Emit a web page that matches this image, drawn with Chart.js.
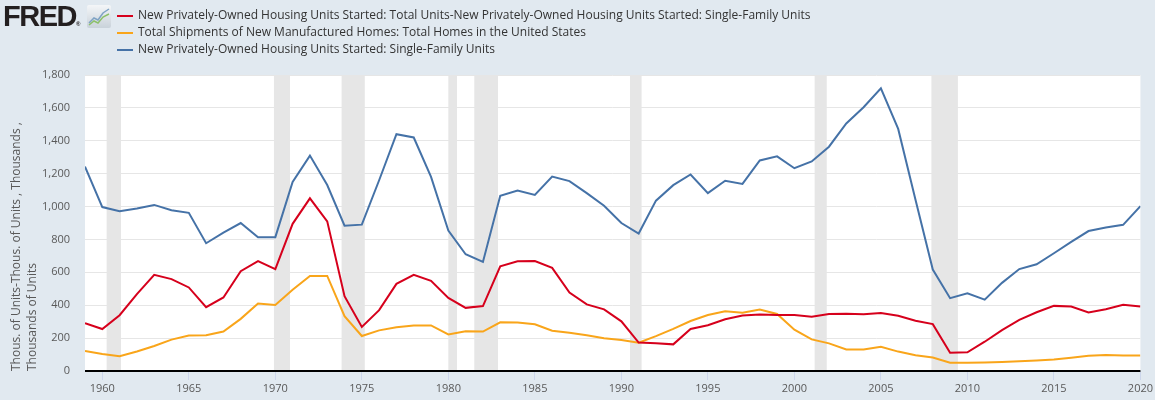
<!DOCTYPE html>
<html>
<head>
    <meta charset="UTF-8">
    <script src="https://cdn.jsdelivr.net/npm/chart.js@4.4.1/dist/chart.umd.min.js"></script>
    <style>
        body {
            margin: 0;
            background: #e1e9f0;
            font-family: "Open Sans", sans-serif;
            width: 1155px;
            height: 400px;
            overflow: hidden;
            position: relative;
        }
        #logo {
            position: absolute;
            left: 3px;
            top: 0px;
            font-family: "Liberation Sans", Arial, sans-serif;
            font-weight: bold;
            font-size: 29px;
            letter-spacing: -1.5px;
            color: #231f20;
        }
        #logo sup {
            font-size: 6px;
            letter-spacing: 0;
            vertical-align: 0;
        }
        #logo svg {
            position: absolute;
            left: 84px;
            top: 5px;
        }
        #legend {
            position: absolute;
            left: 117px;
            top: 6px;
            font-size: 12px;
            color: #333;
        }
        .item {
            height: 17px;
            line-height: 17px;
            white-space: nowrap;
        }
        .item span {
            display: inline-block;
            width: 16px;
            height: 2px;
            vertical-align: middle;
            margin-right: 5px;
        }
        #wrap {
            position: absolute;
            left: 0;
            top: 0;
            width: 1155px;
            height: 400px;
        }
    </style>
</head>
<body>

<div id="wrap"><canvas id="chart"></canvas></div>

<div id="logo">FRED<sup>®</sup>
    <svg width="24" height="23" viewBox="0 0 24 23">
        <defs>
            <linearGradient id="g" x1="0" y1="0" x2="0" y2="1">
                <stop offset="0" stop-color="#f4f6f8"/>
                <stop offset="1" stop-color="#c9d2da"/>
            </linearGradient>
        </defs>
        <rect x="0" y="0" width="24" height="23" rx="2" fill="url(#g)"/>
        <polyline points="2,18 7,13 11,15 16,8 22,4" fill="none" stroke="#7fa3c4" stroke-width="1.5"/>
        <polyline points="2,20 7,16 11,18 16,12 22,9" fill="none" stroke="#8cc06a" stroke-width="1.5"/>
    </svg>
</div>

<div id="legend"></div>

<script>
// annual values, thousands of units, 1959-2020
const years = [];
for (let y = 1959; y <= 2020; y++) years.push(y);

const multiFamily = [
    290, 255, 339, 468, 585, 559, 508, 388, 447, 607,
    668, 620, 895, 1050, 910, 455, 268, 370, 530, 585,
    548, 444, 384, 395, 637, 667, 669, 627, 477, 405,
    375, 302, 173, 169, 162, 256, 278, 315, 338, 344,
    340, 340, 330, 347, 348, 345, 353, 336, 306, 285,
    111, 114, 178, 249, 311, 357, 396, 392, 356, 376,
    403, 392
];

const manufactured = [
    122, 103, 90, 119, 152, 191, 216, 217, 240, 317,
    410, 401, 494, 578, 578, 333, 213, 247, 266, 277,
    277, 222, 241, 240, 296, 295, 284, 245, 233, 218,
    199, 189, 172, 212, 256, 304, 340, 363, 355, 374,
    347, 251, 192, 168, 131, 131, 147, 118, 96, 82,
    50, 50, 52, 55, 60, 64, 70, 81, 93, 97,
    95, 95
];

const singleFamily = [
    1243, 997, 972, 988, 1010, 978, 962, 777, 842, 900,
    813, 814, 1150, 1310, 1131, 884, 890, 1160, 1440, 1420,
    1180, 854, 710, 663, 1066, 1098, 1071, 1182, 1155, 1082,
    1005, 900, 836, 1036, 1130, 1195, 1082, 1157, 1138, 1280,
    1305, 1233, 1274, 1364, 1505, 1604, 1719, 1472, 1042, 617,
    443, 472, 434, 536, 620, 649, 716, 785, 851, 873,
    889, 1003
];

const recessions = [
    [1960.25, 1961.08], [1969.92, 1970.85], [1973.83, 1975.17],
    [1980.0, 1980.5], [1981.5, 1982.87], [1990.5, 1991.17],
    [2001.17, 2001.87], [2007.92, 2009.45]
];

const xTicks = [1960, 1965, 1970, 1975, 1980, 1985, 1990, 1995, 2000, 2005, 2010, 2015, 2020];

const seriesNames = [
    'New Privately-Owned Housing Units Started: Total Units-New Privately-Owned Housing Units Started: Single-Family Units',
    'Total Shipments of New Manufactured Homes: Total Homes in the United States',
    'New Privately-Owned Housing Units Started: Single-Family Units'
];
const seriesColors = ['#d6001c', '#f9a51a', '#4572a7'];
const seriesValues = [multiFamily, manufactured, singleFamily];

// html legend
var legend = document.getElementById('legend');
seriesNames.forEach(function (name, i) {
    var row = document.createElement('div');
    row.className = 'item';
    var sw = document.createElement('span');
    sw.style.background = seriesColors[i];
    row.appendChild(sw);
    row.appendChild(document.createTextNode(name));
    legend.appendChild(row);
});

const recessionBands = {
    id: 'recessionBands',
    beforeDatasetsDraw(chart) {
        const {ctx, chartArea, scales: {x}} = chart;
        ctx.save();
        ctx.fillStyle = '#e6e6e6';
        recessions.forEach(function (r) {
            var x0 = x.getPixelForValue(r[0]);
            var x1 = x.getPixelForValue(r[1]);
            ctx.fillRect(x0, chartArea.top, x1 - x0, chartArea.bottom - chartArea.top);
        });
        ctx.restore();
    }
};

const plotBackground = {
    id: 'plotBackground',
    beforeDraw(chart) {
        const {ctx, chartArea} = chart;
        ctx.save();
        ctx.fillStyle = '#ffffff';
        ctx.fillRect(chartArea.left, chartArea.top, chartArea.right - chartArea.left, chartArea.bottom - chartArea.top);
        ctx.restore();
    }
};

const zeroLine = {
    id: 'zeroLine',
    afterDatasetsDraw(chart) {
        const {ctx, chartArea, scales: {y}} = chart;
        var py = y.getPixelForValue(0);
        ctx.save();
        ctx.strokeStyle = '#000';
        ctx.lineWidth = 2;
        ctx.beginPath();
        ctx.moveTo(chartArea.left, py);
        ctx.lineTo(chartArea.right, py);
        ctx.stroke();
        ctx.restore();
    }
};

new Chart(document.getElementById('chart'), {
    type: 'line',
    data: {
        datasets: seriesValues.map(function (vals, i) {
            return {
                label: seriesNames[i],
                data: years.map(function (yr, j) { return {x: yr, y: vals[j]}; }),
                borderColor: seriesColors[i],
                borderWidth: 2,
                pointRadius: 0,
                tension: 0,
                fill: false
            };
        })
    },
    options: {
        responsive: true,
        maintainAspectRatio: false,
        animation: false,
        layout: { padding: { top: 75, right: 13, left: 0, bottom: 0 } },
        plugins: {
            legend: { display: false },
            tooltip: { enabled: false }
        },
        scales: {
            x: {
                type: 'linear',
                min: 1959,
                max: 2020,
                afterBuildTicks: function (scale) {
                    scale.ticks = xTicks.map(function (v) { return {value: v}; });
                },
                afterFit: function (scale) { scale.height = 29; },
                grid: {
                    drawOnChartArea: false,
                    drawTicks: true,
                    tickLength: 9,
                    tickColor: '#ccd6eb',
                    tickWidth: 1
                },
                border: { display: false },
                ticks: {
                    padding: 2,
                    color: '#595959',
                    font: { family: 'Open Sans', size: 11 },
                    maxRotation: 0,
                    callback: function (v) { return String(v); }
                }
            },
            y: {
                min: 0,
                max: 1800,
                afterFit: function (scale) { scale.width = 85; },
                grid: {
                    color: '#e6e6e6',
                    lineWidth: 1,
                    drawTicks: false
                },
                border: { display: false },
                ticks: {
                    stepSize: 200,
                    padding: 15,
                    color: '#595959',
                    font: { family: 'Open Sans', size: 11 },
                    callback: function (v) { return v.toLocaleString('en-US'); }
                },
                title: {
                    display: true,
                    align: 'start',
                    text: ['Thous. of Units-Thous. of Units , Thousands ,', 'Thousands of Units'],
                    color: '#595959',
                    font: { family: 'Open Sans', size: 12, lineHeight: '16px' },
                    padding: { top: 9, bottom: 0 }
                }
            }
        }
    },
    plugins: [plotBackground, recessionBands, zeroLine]
});
</script>

</body>
</html>
